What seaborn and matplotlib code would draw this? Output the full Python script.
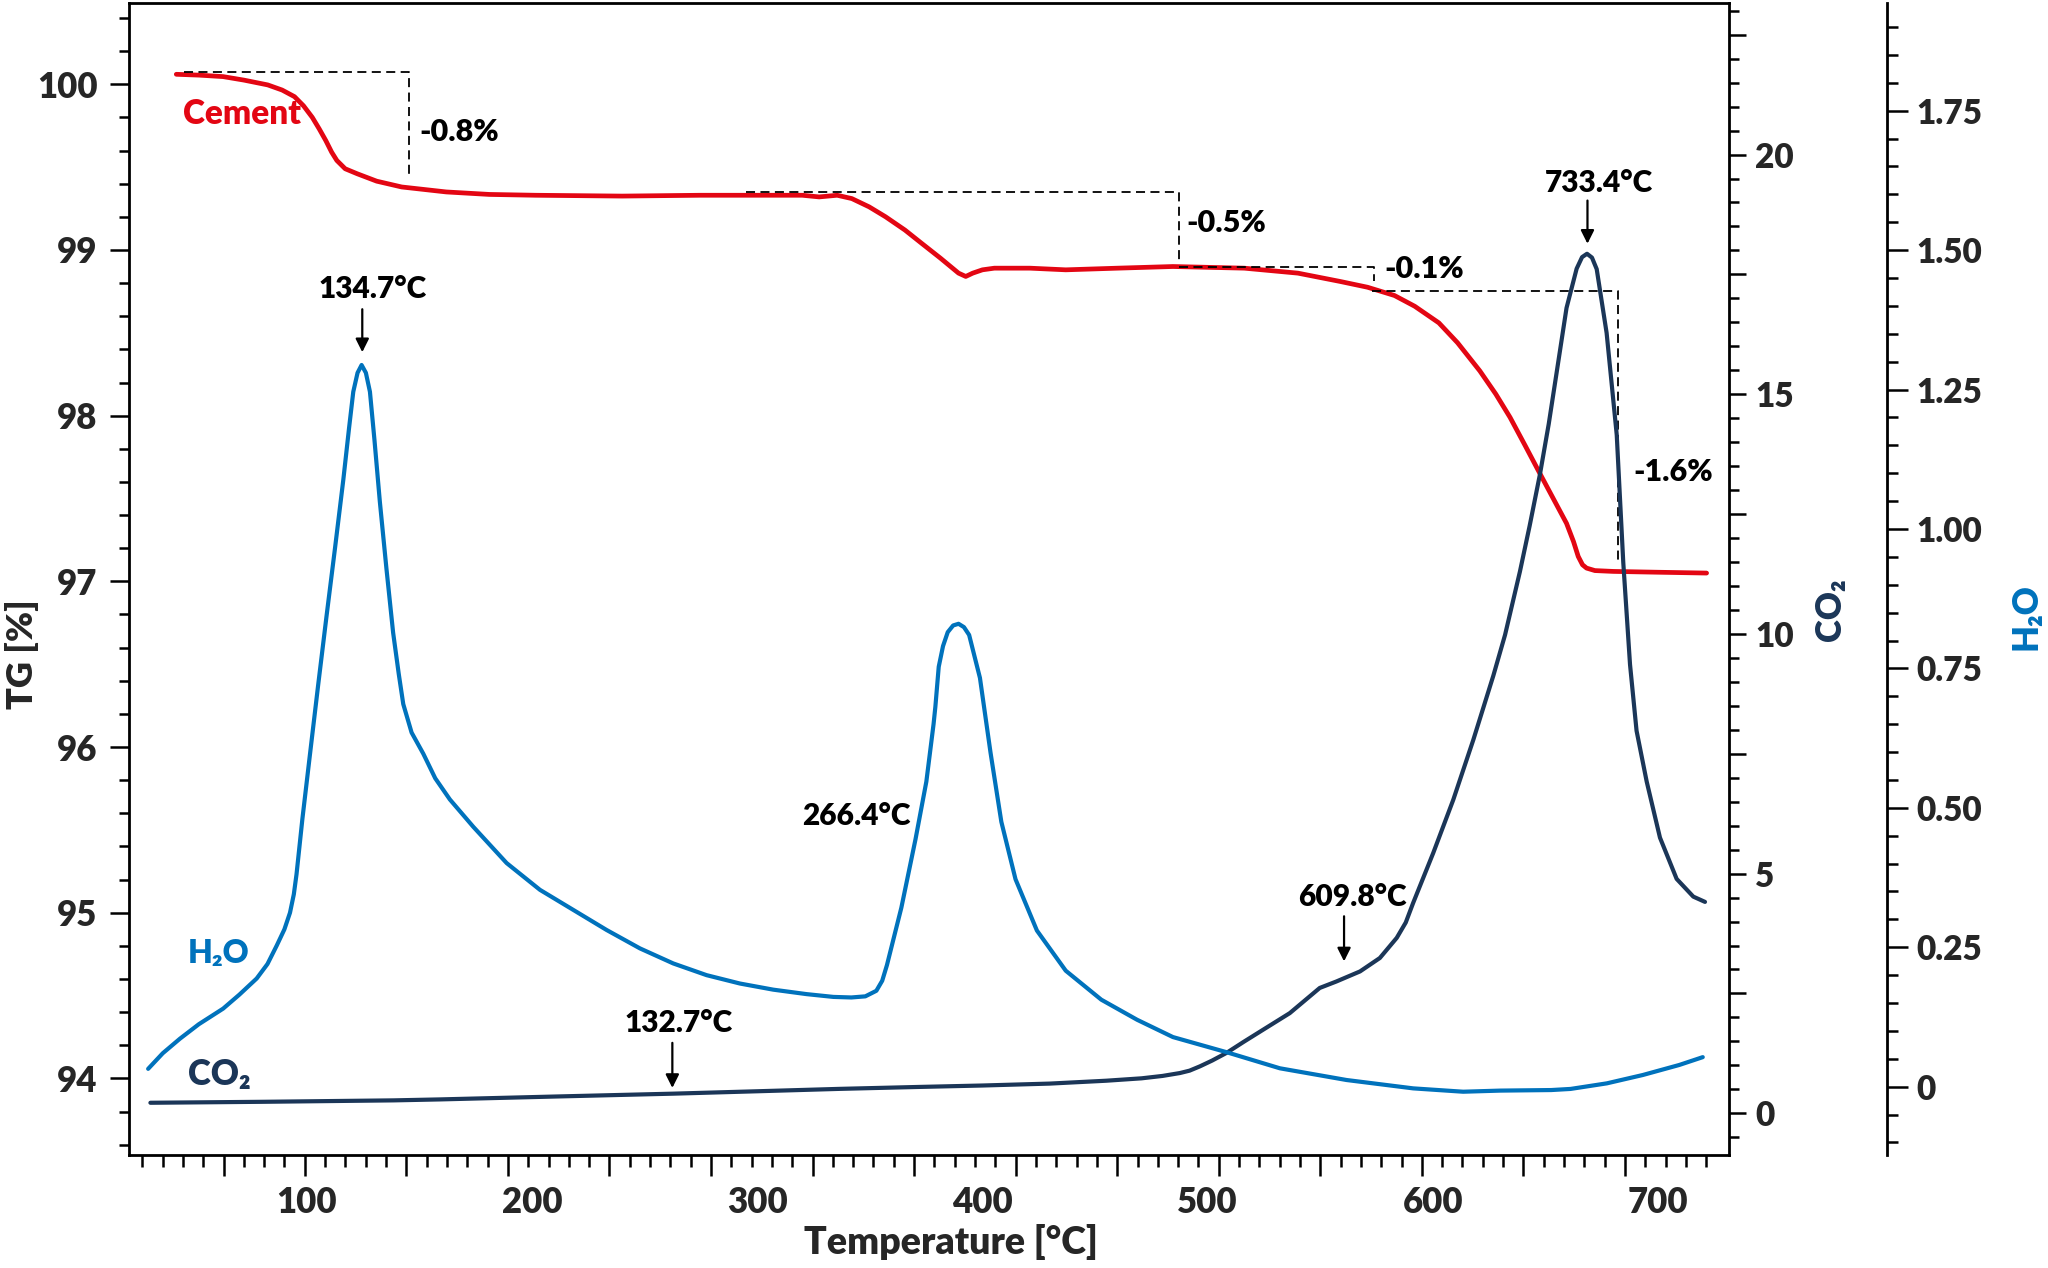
import matplotlib
matplotlib.use("Agg")
import matplotlib.pyplot as plt
from matplotlib.ticker import MultipleLocator, FixedLocator, FuncFormatter
import seaborn as sns

# ---- data ----
# TG curve of the cement sample
tg_temp = [42.0, 52.0, 62.8, 72.0, 82.6, 89.0, 94.5, 98.5, 102.4, 105.5, 108.4, 111.0, 113.3, 117.0,
           122.3, 131.0, 142.1, 161.9, 181.0, 201.6, 240.0, 274.6, 310.1, 320.0, 327.5, 335.5, 342.0,
           349.7, 357.0, 365.6, 373.0, 381.4, 389.4, 392.6, 395.7, 400.0, 405.3, 421.1, 437.0, 460.0,
           484.6, 516.3, 540.1, 558.8, 571.0, 583.0, 592.0, 602.7, 611.0, 620.9, 628.0, 634.3, 641.0,
           647.6, 653.5, 659.4, 662.5, 664.6, 666.5, 668.3, 672.0, 680.1, 700.0, 721.6]
tg_mass = [100.06, 100.055, 100.046, 100.025, 99.996, 99.965, 99.925, 99.87, 99.80, 99.73, 99.66, 99.59,
           99.54, 99.49, 99.46, 99.415, 99.38, 99.35, 99.335, 99.33, 99.325, 99.33, 99.33, 99.33, 99.32,
           99.33, 99.31, 99.26, 99.20, 99.12, 99.04, 98.95, 98.86, 98.84, 98.86, 98.88, 98.89, 98.89,
           98.88, 98.89, 98.90, 98.89, 98.86, 98.81, 98.775, 98.725, 98.66, 98.56, 98.44, 98.27, 98.13,
           97.99, 97.82, 97.65, 97.50, 97.35, 97.24, 97.15, 97.10, 97.08, 97.065, 97.06, 97.055, 97.05]

# H2O signal
h2o_temp = [29.5, 36.0, 43.6, 52.0, 62.8, 70.0, 77.7, 82.5, 86.6, 90.0, 92.5, 94.2, 95.4, 98.0, 101.4,
            105.0, 108.7, 112.5, 116.2, 118.7, 120.6, 122.5, 124.3, 126.2, 128.0, 130.0, 132.4, 135.3,
            138.3, 140.8, 142.8, 146.5, 151.7, 157.0, 163.5, 173.9, 188.7, 203.5, 218.3, 233.1, 247.9,
            262.7, 277.5, 292.3, 307.1, 321.9, 333.8, 341.8, 348.0, 352.9, 355.5, 357.6, 364.0, 370.3,
            375.1, 378.3, 379.1, 380.6, 382.5, 384.6, 387.0, 389.4, 391.8, 394.1, 398.9, 403.6, 408.4,
            414.7, 424.2, 437.0, 452.8, 468.7, 484.6, 508.3, 532.1, 561.7, 591.3, 613.5, 630.0, 652.6,
            661.2, 677.3, 693.3, 709.5, 719.9]
h2o_signal = [0.032, 0.060, 0.086, 0.112, 0.140, 0.165, 0.194, 0.220, 0.253, 0.282, 0.312, 0.345, 0.381,
              0.48, 0.597, 0.72, 0.843, 0.966, 1.089, 1.18, 1.246, 1.280, 1.294, 1.280, 1.246, 1.16,
              1.049, 0.93, 0.814, 0.74, 0.686, 0.635, 0.597, 0.553, 0.515, 0.466, 0.401, 0.353, 0.317,
              0.281, 0.248, 0.221, 0.200, 0.185, 0.174, 0.166, 0.161, 0.160, 0.162, 0.172, 0.19, 0.218,
              0.321, 0.444, 0.547, 0.650, 0.681, 0.753, 0.79, 0.815, 0.827, 0.830, 0.824, 0.810, 0.733,
              0.599, 0.475, 0.372, 0.280, 0.208, 0.156, 0.120, 0.089, 0.062, 0.033, 0.012, -0.003, -0.009,
              -0.007, -0.006, -0.004, 0.006, 0.021, 0.039, 0.053]

# CO2 signal
co2_temp = [30.5, 80.0, 138.5, 159.1, 210.0, 262.7, 300.0, 336.7, 371.6, 400.0, 429.9, 455.0, 470.7,
            480.0, 487.7, 492.0, 496.6, 502.0, 508.4, 516.0, 524.7, 536.5, 549.8, 557.2, 567.7, 576.5,
            584.0, 588.0, 591.3, 600.2, 609.1, 618.0, 626.9, 632.1, 638.7, 643.0, 647.6, 651.5, 655.0,
            659.4, 663.9, 666.3, 668.5, 670.7, 672.8, 677.2, 681.7, 684.6, 687.6, 690.5, 695.0, 700.9,
            708.3, 715.7, 720.9]
co2_signal = [0.22, 0.24, 0.27, 0.29, 0.35, 0.41, 0.46, 0.51, 0.55, 0.58, 0.62, 0.68, 0.73, 0.78, 0.84,
              0.89, 0.98, 1.10, 1.26, 1.49, 1.745, 2.09, 2.615, 2.75, 2.96, 3.24, 3.66, 3.98, 4.39, 5.43,
              6.54, 7.79, 9.13, 9.98, 11.30, 12.25, 13.33, 14.38, 15.45, 16.80, 17.62, 17.86, 17.93,
              17.85, 17.61, 16.28, 14.15, 11.49, 9.36, 7.98, 6.92, 5.75, 4.89, 4.52, 4.41]

x_tick_labels = [100, 200, 300, 400, 500, 600, 700]

# mass-loss steps (dashed brackets on the TG axis)
step_x0 = [45.4, 294.8, 487.3, 573.0]
step_x1 = [145.5, 487.3, 574.0, 682.1]
step_top = [100.076, 99.35, 98.90, 98.75]
step_bottom = [99.43, 98.94, 98.81, 97.13]
step_labels = ["-0.8%", "-0.5%", "-0.1%", "-1.6%"]
step_label_x = [150.0, 490.6, 578.6, 688.9]
step_label_y = [99.71, 99.16, 98.885, 97.66]

# peak temperatures on the H2O curve
h2o_peak_labels = ["134.7°C", "266.4°C"]
h2o_peak_text_x = [129.0, 343.8]
h2o_peak_text_y = [1.431, 0.485]
h2o_arrow_x = [124.6]
h2o_arrow_from = [1.394]
h2o_arrow_to = [1.317]

# peak temperatures on the CO2 curve
co2_peak_labels = ["733.4°C", "609.8°C", "132.7°C"]
co2_peak_text_x = [673.8, 564.3, 265.2]
co2_peak_text_y = [19.41, 4.52, 1.89]
co2_arrow_x = [668.7, 560.6, 262.3]
co2_arrow_from = [19.04, 4.11, 1.47]
co2_arrow_to = [18.14, 3.17, 0.53]

RED = "#e30613"
BLUE = "#0072bc"
NAVY = "#1b3658"

sns.set_theme(style="ticks")
plt.rcParams["font.family"] = ["Lato", "DejaVu Sans"]
plt.rcParams["font.weight"] = "heavy"
plt.rcParams["axes.labelweight"] = "heavy"
plt.rcParams["axes.linewidth"] = 2.0

fig = plt.figure(figsize=(20.48, 12.68), dpi=100)
ax = fig.add_axes([0.0628, 0.0891, 0.7816, 0.9085])
ax_co2 = ax.twinx()
ax_h2o = ax.twinx()
ax_h2o.spines["right"].set_position(("axes", 1.0985))

for a in (ax_co2, ax_h2o):
    for side in ("left", "top", "bottom"):
        a.spines[side].set_visible(False)
ax.spines["right"].set_visible(False)
for a in (ax, ax_co2, ax_h2o):
    for s in a.spines.values():
        s.set_linewidth(2.0)
        s.set_color("black")

# curves
sns.lineplot(x=tg_temp, y=tg_mass, ax=ax, color=RED, linewidth=3.4, sort=False, estimator=None)
sns.lineplot(x=co2_temp, y=co2_signal, ax=ax_co2, color=NAVY, linewidth=3.0, sort=False, estimator=None)
sns.lineplot(x=h2o_temp, y=h2o_signal, ax=ax_h2o, color=BLUE, linewidth=3.0, sort=False, estimator=None)

# limits
ax.set_xlim(20.83, 731.7)
ax.set_ylim(93.538, 100.49)
ax_co2.set_ylim(-0.87, 23.16)
ax_h2o.set_ylim(-0.1225, 1.943)

# x ticks: small ticks every ~9 units, long ticks every fifth one
x_minor = [26.9 + 9.02 * k for k in range(78)]
x_major = [x_minor[4]] + [x_minor[k] for k in range(8, 78, 5)]
ax.xaxis.set_major_locator(FixedLocator(x_major))
ax.xaxis.set_minor_locator(FixedLocator(x_minor))
ax.tick_params(axis="x", which="major", length=15, width=1.8, labelbottom=False, color="black")
ax.tick_params(axis="x", which="minor", length=8.4, width=1.8, color="black")
sec = ax.secondary_xaxis("bottom")
sec.set_xticks(x_tick_labels)
sec.set_xticklabels([str(v) for v in x_tick_labels])
sec.tick_params(length=0, pad=22, labelsize=25)
sec.spines["bottom"].set_visible(False)

# TG axis
ax.yaxis.set_major_locator(MultipleLocator(1))
ax.yaxis.set_minor_locator(MultipleLocator(0.2))
ax.yaxis.set_major_formatter(FuncFormatter(lambda v, p: f"{v:.0f}"))
ax.tick_params(axis="y", which="major", length=13.7, width=1.8, labelsize=25, pad=8.6, color="black")
ax.tick_params(axis="y", which="minor", length=7.2, width=1.8, color="black")

# CO2 axis
ax_co2.yaxis.set_major_locator(MultipleLocator(2.5))
ax_co2.yaxis.set_minor_locator(MultipleLocator(0.5))
ax_co2.yaxis.set_major_formatter(FuncFormatter(lambda v, p: f"{v:.0f}" if abs(v / 5 - round(v / 5)) < 1e-6 else ""))
ax_co2.tick_params(axis="y", which="major", length=12.2, width=1.8, labelsize=24, pad=6.5, color="black")
ax_co2.tick_params(axis="y", which="minor", length=7.2, width=1.8, color="black")

# H2O axis
ax_h2o.yaxis.set_major_locator(MultipleLocator(0.25))
ax_h2o.yaxis.set_minor_locator(MultipleLocator(0.05))
ax_h2o.yaxis.set_major_formatter(FuncFormatter(lambda v, p: "0" if abs(v) < 1e-9 else f"{v:.2f}"))
ax_h2o.tick_params(axis="y", which="major", length=15, width=1.8, labelsize=24, pad=6.5, color="black")
ax_h2o.tick_params(axis="y", which="minor", length=7.7, width=1.8, color="black")

# axis labels
ax.set_xlabel("Temperature [°C]", fontsize=27)
ax.xaxis.set_label_coords(0.514, -0.060)
ax.set_ylabel("TG [%]", fontsize=26)
ax.yaxis.set_label_coords(-0.056, 0.4345)
ax_co2.set_ylabel("CO₂", fontsize=25, color=NAVY)
ax_co2.yaxis.set_label_coords(1.053, 0.473)
ax_h2o.set_ylabel("H₂O", fontsize=25, color=BLUE)
ax_h2o.yaxis.set_label_coords(1.1748, 0.467)

# mass-loss brackets
for x0, x1, yt, yb, lab, lx, ly in zip(step_x0, step_x1, step_top, step_bottom,
                                       step_labels, step_label_x, step_label_y):
    ax.plot([x0, x1, x1], [yt, yt, yb], color="black", linewidth=1.3, linestyle=(0, (5, 3)))
    ax.text(lx, ly, lab, fontsize=22, ha="left", va="center", color="black")

# series names
ax.text(71.1, 99.82, "Cement", fontsize=24, color=RED, ha="center", va="center")
ax_h2o.text(60.8, 0.238, "H₂O", fontsize=23, color=BLUE, ha="center", va="center")
ax_co2.text(61.0, 0.815, "CO₂", fontsize=25, color=NAVY, ha="center", va="center")

# peak annotations
arrow_kw = dict(arrowstyle="-|>", color="black", lw=1.6, mutation_scale=20,
                shrinkA=0, shrinkB=0)
for lab, tx, ty in zip(h2o_peak_labels, h2o_peak_text_x, h2o_peak_text_y):
    ax_h2o.text(tx, ty, lab, fontsize=21.5, ha="center", va="center", color="black")
for x, y0, y1 in zip(h2o_arrow_x, h2o_arrow_from, h2o_arrow_to):
    ax_h2o.annotate("", xy=(x, y1), xytext=(x, y0), arrowprops=arrow_kw)
for lab, tx, ty in zip(co2_peak_labels, co2_peak_text_x, co2_peak_text_y):
    ax_co2.text(tx, ty, lab, fontsize=21.5, ha="center", va="center", color="black")
for x, y0, y1 in zip(co2_arrow_x, co2_arrow_from, co2_arrow_to):
    ax_co2.annotate("", xy=(x, y1), xytext=(x, y0), arrowprops=arrow_kw)

fig.savefig("out.png", dpi=100)
